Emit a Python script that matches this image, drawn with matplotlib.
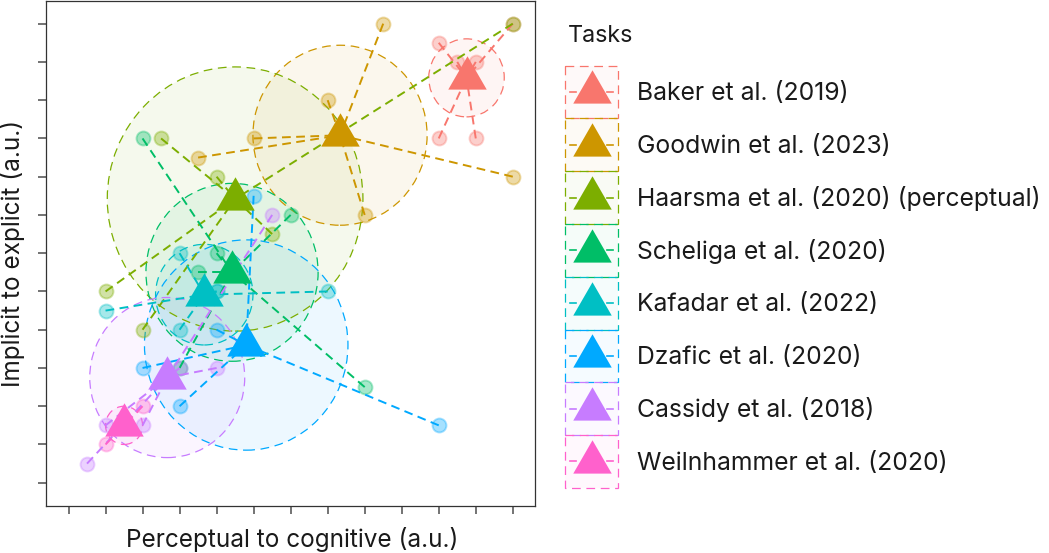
import numpy as np
import matplotlib
matplotlib.use('Agg')
import matplotlib.pyplot as plt
from matplotlib.patches import Circle, Rectangle

plt.rcParams['font.family'] = ['Inter', 'DejaVu Sans']

# studies, in legend order
tasks = ['Baker et al. (2019)', 'Goodwin et al. (2023)',
         'Haarsma et al. (2020) (perceptual)', 'Scheliga et al. (2020)',
         'Kafadar et al. (2022)', 'Dzafic et al. (2020)',
         'Cassidy et al. (2018)', 'Weilnhammer et al. (2020)']
colors = ['#F8766D', '#CD9600', '#7CAE00', '#00BE67',
          '#00BFC4', '#00A9FF', '#C77CFF', '#FF61CC']

# item positions (perceptual->cognitive, implicit->explicit)
baker_x = [11, 11.5, 12, 11, 12, 13]
baker_y = [12.5, 12, 12, 10, 10, 13]
goodwin_x = [9.5, 8, 6, 4.5, 13, 9]
goodwin_y = [13, 11, 10, 9.5, 9, 8]
haarsma_x = [3.5, 5, 6.5, 13, 2, 3]
haarsma_y = [10, 9, 7.5, 13, 6, 5]
scheliga_x = [3, 7, 5, 4.5, 9, 4]
scheliga_y = [10, 8, 7, 6.5, 3.5, 4]
kafadar_x = [4, 2, 4, 8, 5, 5]
kafadar_y = [7, 5.5, 5, 6, 6, 6]
dzafic_x = [6, 3, 4, 11, 5]
dzafic_y = [8.5, 4, 3, 2.5, 5]
cassidy_x = [6.5, 5, 2, 3, 1.5, 4]
cassidy_y = [8, 4, 2.5, 2.5, 1.5, 4]
weil_x = [3, 2, 2.5]
weil_y = [3, 2, 2.5]

xs = [baker_x, goodwin_x, haarsma_x, scheliga_x, kafadar_x, dzafic_x, cassidy_x, weil_x]
ys = [baker_y, goodwin_y, haarsma_y, scheliga_y, kafadar_y, dzafic_y, cassidy_y, weil_y]

ticks = list(range(1, 14))

# triangle with centroid at the origin (like R's pch 17)
tri = [(0, 1), (-0.866, -0.5), (0.866, -0.5)]

W, H = 1049, 553
fig = plt.figure(figsize=(W / 100, H / 100), dpi=100)
ax = fig.add_axes([46.3 / W, 47.3 / H, 488.7 / W, 505 / H])

for i in range(len(tasks)):
    x = np.array(xs[i], dtype=float)
    y = np.array(ys[i], dtype=float)
    cx, cy = x.mean(), y.mean()
    r = (x.std(ddof=1) + y.std(ddof=1)) / 2
    c = colors[i]
    ax.add_patch(Circle((cx, cy), r, facecolor=c, alpha=0.07, edgecolor='none', zorder=1))
    ax.add_patch(Circle((cx, cy), r, facecolor='none', edgecolor=c, lw=0.9,
                        linestyle=(0, (7, 4.5)), zorder=1.5))

for i in range(len(tasks)):
    x = np.array(xs[i], dtype=float)
    y = np.array(ys[i], dtype=float)
    ax.scatter(x, y, s=100, color=colors[i], alpha=0.35, lw=1.4, zorder=2)

for i in range(len(tasks)):
    x = np.array(xs[i], dtype=float)
    y = np.array(ys[i], dtype=float)
    cx, cy = x.mean(), y.mean()
    for px, py in zip(x, y):
        ax.plot([px, cx], [py, cy], color=colors[i], lw=1.4,
                linestyle=(0, (4.5, 2.8)), zorder=3)

for i in range(len(tasks)):
    x = np.array(xs[i], dtype=float)
    y = np.array(ys[i], dtype=float)
    ax.scatter([x.mean()], [y.mean()], marker=tri, s=32 ** 2, color=colors[i],
               lw=0, zorder=4)

ax.set_xlim(0.4, 13.6)
ax.set_ylim(0.4, 13.6)
ax.set_xticks(ticks)
ax.set_yticks(ticks)
ax.set_xticklabels([])
ax.set_yticklabels([])
ax.tick_params(length=6, width=1.1, color='#4d4d4d')
for s in ax.spines.values():
    s.set_color('#333333')
    s.set_linewidth(0.9)

fig.text(292 / W, 1 - 547.5 / H, 'Perceptual to cognitive (a.u.)', ha='center',
         va='baseline', fontsize=17.5, color='#1a1a1a')
fig.text(20.5 / W, 1 - 253 / H, 'Implicit to explicit (a.u.)', ha='center',
         va='baseline', rotation=90, rotation_mode='anchor', fontsize=17.5,
         color='#1a1a1a')

# legend drawn by hand in pixel coordinates
lg = fig.add_axes([0, 0, 1, 1])
lg.set_xlim(0, W)
lg.set_ylim(H, 0)
lg.axis('off')
lg.text(568, 41.7, 'Tasks', ha='left', va='baseline', fontsize=16.8, color='#1a1a1a')
key_top = 65.5
key_h = 52.8
for i, lab in enumerate(tasks):
    t = key_top + i * key_h
    c = colors[i]
    lg.add_patch(Rectangle((565, t), 53, key_h, facecolor=c, alpha=0.04, edgecolor='none'))
    lg.add_patch(Rectangle((565, t), 53, key_h, facecolor='none', edgecolor=c, lw=0.9,
                           linestyle=(0, (7, 4.5))))
    ym = t + key_h / 2
    lg.plot([570, 576], [ym, ym], color=c, lw=1.2)
    lg.plot([607, 613], [ym, ym], color=c, lw=1.2)
    lg.scatter([591.5], [ym + 0.5], marker=tri, s=32 ** 2, color=c, lw=0)
    lg.text(637, ym + 8.3, lab, ha='left', va='baseline', fontsize=17.8, color='#1a1a1a')

fig.savefig('out.png', dpi=100)
